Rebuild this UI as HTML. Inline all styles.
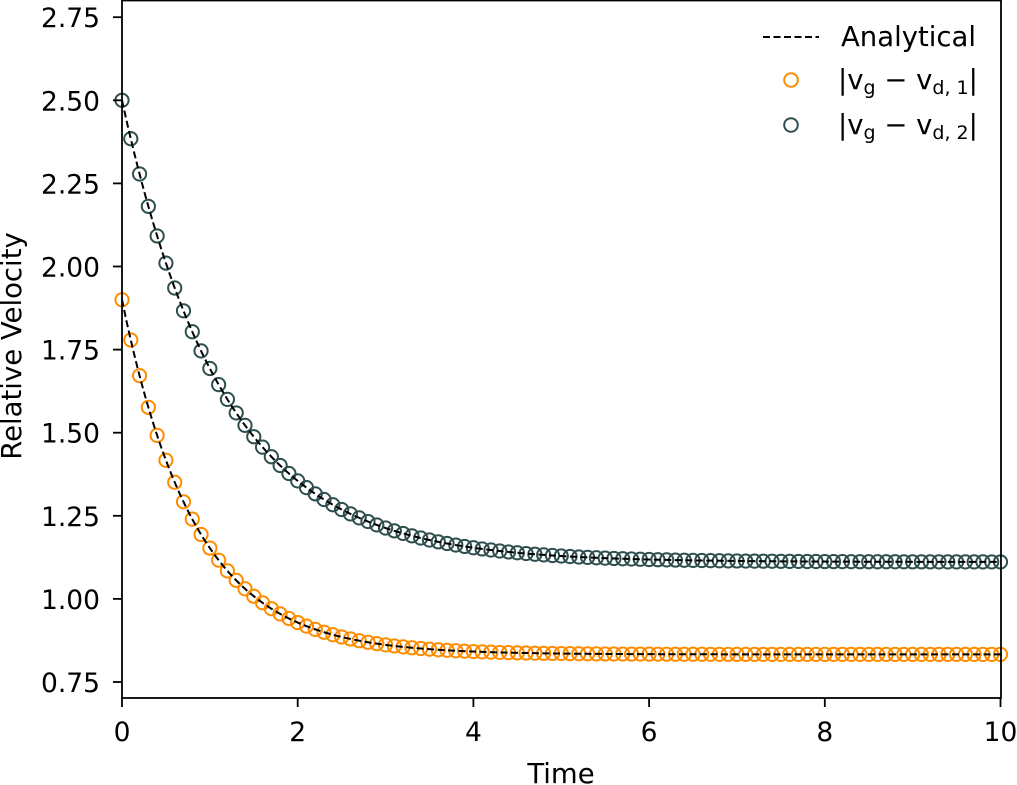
<!DOCTYPE html>
<html><head><style>
html,body{margin:0;padding:0;background:#fff;}
svg{display:block;font-family:"DejaVu Sans","Liberation Sans",sans-serif;}
</style></head><body>
<svg id="s" width="1017" height="785" xmlns="http://www.w3.org/2000/svg">
<g id="data"></g>
<rect x="122" y="0.5" width="879" height="697.5" fill="none" stroke="#000" stroke-width="1.8"/>
<g stroke="#000" stroke-width="1.8" id="ticks"></g>
<g font-size="26.5" fill="#000" id="labels"></g>
<text x="561" y="783" font-size="27.5" text-anchor="middle">Time</text>
<text transform="translate(21,346) rotate(-90)" font-size="27.5" text-anchor="middle">Relative Velocity</text>
<g font-size="27.5">
<line x1="763" y1="37" x2="819" y2="37" stroke="#000" stroke-width="2" stroke-dasharray="7,3.5"/>
<text x="841" y="46">Analytical</text>
<circle cx="791" cy="80" r="6.8" fill="none" stroke="#ff8c00" stroke-width="2"/>
<text x="838" y="89">|v<tspan font-size="19" dy="5">g</tspan><tspan dy="-5"> − v</tspan><tspan font-size="19" dy="5">d, 1</tspan><tspan dy="-5">|</tspan></text>
<circle cx="791" cy="125" r="6.8" fill="none" stroke="#2f4f4f" stroke-width="2"/>
<text x="838" y="134">|v<tspan font-size="19" dy="5">g</tspan><tspan dy="-5"> − v</tspan><tspan font-size="19" dy="5">d, 2</tspan><tspan dy="-5">|</tspan></text>
</g>
</svg>
<script>
function X(t){return 122+t*87.85;}
function Y(v){return 682-(v-0.75)/0.25*83.1;}
function f1(t){return 0.833+1.067*Math.exp(-t/0.83);}
function f2(t){return 1.111+1.389*Math.exp(-t/1.15);}
var d=document.getElementById("data"),h="";
for(var i=0;i<=100;i++){var t=i/10;
h+='<circle cx="'+X(t)+'" cy="'+Y(f1(t))+'" r="6.6" fill="none" stroke="#ff8c00" stroke-width="2"/>';
h+='<circle cx="'+X(t)+'" cy="'+Y(f2(t))+'" r="6.6" fill="none" stroke="#2f4f4f" stroke-width="2"/>';}
[f1,f2].forEach(function(f){var p="";for(var i=0;i<=500;i++){var t=i/50;p+=(i?"L":"M")+X(t).toFixed(2)+","+Y(f(t)).toFixed(2);}
h+='<path d="'+p+'" fill="none" stroke="#000" stroke-width="2" stroke-dasharray="7,3.5"/>';});
d.innerHTML=h;
var tk="",lb="";
for(var k=0;k<=5;k++){var x=X(2*k);tk+='<line x1="'+x+'" y1="698" x2="'+x+'" y2="707"/>';lb+='<text x="'+x+'" y="741" text-anchor="middle">'+(2*k)+'</text>';}
for(var k=0;k<=8;k++){var v=0.75+0.25*k,y=Y(v);tk+='<line x1="113" y1="'+y+'" x2="122" y2="'+y+'"/>';lb+='<text x="100" y="'+(y+10)+'" text-anchor="end">'+v.toFixed(2)+'</text>';}
document.getElementById("ticks").innerHTML=tk;document.getElementById("labels").innerHTML=lb;
</script>
</body></html>
